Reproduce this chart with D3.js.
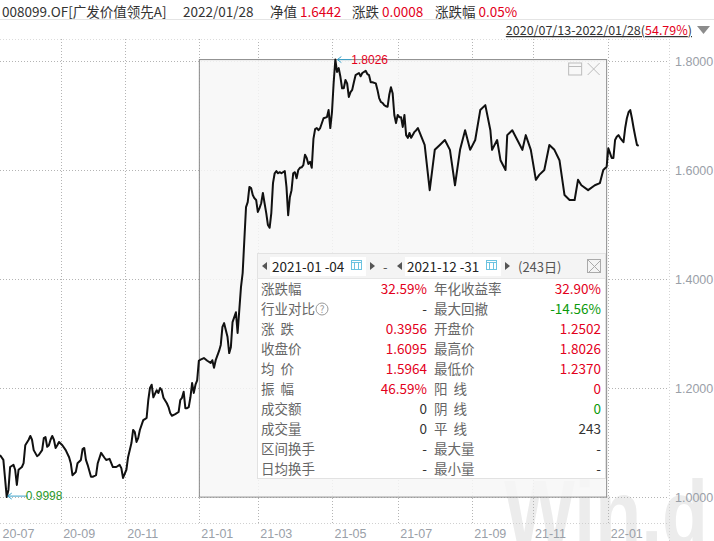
<!DOCTYPE html>
<html>
<head>
<meta charset="utf-8">
<script src="https://cdn.jsdelivr.net/npm/d3@7"></script>
<style>
  body { margin: 0; background: #fff; }
  svg { display: block; font-family: "Noto Sans CJK SC", "Noto Sans", sans-serif; }
</style>
</head>
<body>
<svg id="chart" width="714" height="541"></svg>
<script>
// trading-day index from 2020-07-13, and net value
var navIdx = [0,2,4,5,6,8,9,10,11,13,14,15,17,18,19,20,22,23,25,26,27,28,29,30,31,32,33,34,35,37,39,41,42,43,45,46,48,49,50,51,52,54,55,57,58,60,62,63,65,67,69,71,72,73,75,76,78,79,80,81,82,83,85,86,87,88,89,90,91,93,94,95,96,97,99,100,101,102,104,106,107,108,109,110,111,112,113,114,115,116,117,118,119,121,123,125,126,127,128,130,131,132,133,135,136,137,138,140,141,142,143,144,145,146,147,148,149,150,151,152,153,154,155,156,157,158,159,160,161,162,163,164,165,166,167,169,170,171,172,173,174,175,176,177,178,179,180,181,182,183,184,185,186,187,188,189,190,192,194,195,196,197,198,199,200,201,202,203,204,205,206,207,208,209,210,211,213,214,215,217,218,219,220,221,223,224,225,226,227,228,229,230,231,232,233,234,235,236,237,238,239,240,241,242,243,244,246,247,248,252,255,258,261,264,267,270,273,276,279,282,285,288,291,292,295,297,300,301,304,307,310,312,315,318,320,323,326,329,332,335,338,341,343,345,349,353,356,358,360,361,362,363,364,365,366,367,368,369,370,371,372,373,374,375,376,377,378,379];
var navVal = [1.077,1.068,0.9998,1.013,1.055,1.059,1.050,1.022,1.050,1.055,1.062,1.095,1.105,1.112,1.105,1.086,1.075,1.077,1.086,1.108,1.110,1.092,1.095,1.105,1.112,1.105,1.090,1.095,1.101,1.095,1.086,1.073,1.062,1.040,1.046,1.062,1.068,1.088,1.090,1.068,1.059,1.037,1.037,1.040,1.062,1.081,1.072,1.068,1.070,1.055,1.055,1.059,1.053,1.035,1.050,1.073,1.099,1.123,1.119,1.101,1.108,1.123,1.141,1.143,1.145,1.178,1.200,1.206,1.183,1.196,1.191,1.200,1.196,1.182,1.172,1.165,1.154,1.149,1.152,1.156,1.178,1.182,1.193,1.163,1.163,1.165,1.183,1.209,1.191,1.206,1.214,1.250,1.252,1.255,1.250,1.246,1.251,1.237,1.251,1.268,1.279,1.312,1.319,1.294,1.264,1.275,1.321,1.339,1.301,1.343,1.385,1.411,1.472,1.532,1.541,1.569,1.567,1.554,1.548,1.545,1.523,1.530,1.539,1.558,1.539,1.521,1.499,1.494,1.521,1.576,1.594,1.598,1.594,1.596,1.594,1.598,1.569,1.517,1.550,1.563,1.594,1.596,1.585,1.600,1.604,1.605,1.609,1.628,1.622,1.611,1.615,1.604,1.657,1.675,1.677,1.673,1.677,1.695,1.697,1.710,1.677,1.706,1.760,1.8026,1.780,1.787,1.771,1.750,1.750,1.765,1.759,1.734,1.743,1.747,1.761,1.774,1.778,1.772,1.778,1.782,1.776,1.774,1.761,1.761,1.759,1.747,1.732,1.725,1.723,1.719,1.717,1.716,1.738,1.752,1.741,1.701,1.686,1.701,1.697,1.697,1.679,1.701,1.664,1.659,1.668,1.659,1.670,1.673,1.677,1.646,1.563,1.637,1.646,1.655,1.637,1.572,1.637,1.673,1.637,1.655,1.710,1.719,1.673,1.637,1.655,1.618,1.600,1.664,1.673,1.655,1.637,1.664,1.637,1.582,1.591,1.600,1.646,1.637,1.618,1.554,1.545,1.545,1.582,1.572,1.563,1.572,1.576,1.600,1.606,1.640,1.631,1.622,1.622,1.655,1.661,1.664,1.659,1.655,1.651,1.677,1.695,1.706,1.710,1.695,1.677,1.661,1.646,1.6442];

var monthIdx = [0,36,74,118,153,197,236,280,316,361];
var monthLbl = ["20-07","20-09","20-11","21-01","21-03","21-05","21-07","21-09","21-11","22-01"];
var yTicks = [1.0,1.2,1.4,1.6,1.8];

var selFrom = 118, selTo = 360;   // 2021-01-04 .. 2021-12-31
var statLeft = ["涨跌幅","行业对比","涨  跌","收盘价","均  价","振  幅","成交额","成交量","区间换手","日均换手"];
var statLeftVal = ["32.59%","-","0.3956","1.6095","1.5964","46.59%","0","0","-","-"];
var statLeftCol = ["r","k","r","r","r","r","k","k","k","k"];
var statRight = ["年化收益率","最大回撤","开盘价","最高价","最低价","阳  线","阴  线","平  线","最大量","最小量"];
var statRightVal = ["32.90%","-14.56%","1.2502","1.8026","1.2370","0","0","243","-","-"];
var statRightCol = ["r","g","r","r","r","r","g","k","k","k"];

var RED = "#e3001b", GREEN = "#0a9a0a", GREY = "#9aa0a8", TXT = "#333";
var colOf = {r: RED, g: GREEN, k: TXT};

var svg = d3.select("#chart");

var x = d3.scaleLinear().domain([0, 397]).range([0, 669]);
var y = d3.scaleLinear().domain([1.0, 1.8]).range([497, 61]);

// watermark
svg.append("text")
  .attr("x", 504).attr("y", 545)
  .attr("font-family", "Liberation Sans, Arial, sans-serif")
  .attr("font-weight", "bold")
  .attr("font-size", 92)
  .attr("textLength", 204).attr("lengthAdjust", "spacingAndGlyphs")
  .attr("fill", "#ececec")
  .text("Win.d");

// header
var head = svg.append("text").attr("y", 17).attr("font-size", 13.5).attr("fill", TXT);
head.append("tspan").attr("x", 2).text("008099.OF[广发价值领先A]");
head.append("tspan").attr("x", 183).text("2022/01/28");
head.append("tspan").attr("x", 270).text("净值 ");
head.append("tspan").attr("fill", RED).text("1.6442");
head.append("tspan").attr("x", 352).text("涨跌 ");
head.append("tspan").attr("fill", RED).text("0.0008");
head.append("tspan").attr("x", 435).text("涨跌幅 ");
head.append("tspan").attr("fill", RED).text("0.05%");

svg.append("line").attr("x1", 0).attr("x2", 714).attr("y1", 19.5).attr("y2", 19.5)
  .attr("stroke", "#e4e4e4");

var rng = svg.append("text").attr("x", 692).attr("y", 35).attr("text-anchor", "end")
  .attr("font-size", 12.5).attr("fill", TXT).attr("text-decoration", "underline");
rng.append("tspan").text("2020/07/13-2022/01/28(");
rng.append("tspan").attr("fill", RED).text("54.79%");
rng.append("tspan").text(")");
svg.append("path").attr("d", "M697,26 L710,26 L703.5,34 Z").attr("fill", "#8c8c8c");

// grid
var grid = svg.append("g")
  .attr("stroke", "#b4b4b4").attr("stroke-dasharray", "1,2");
grid.selectAll(".hg").data(yTicks).enter().append("line")
  .attr("x1", 0).attr("x2", 669)
  .attr("y1", function(d) { return Math.round(y(d)) + 0.5; })
  .attr("y2", function(d) { return Math.round(y(d)) + 0.5; });
grid.selectAll(".vg").data(monthIdx.slice(1)).enter().append("line")
  .attr("x1", function(d) { return Math.round(x(d)) + 0.5; })
  .attr("x2", function(d) { return Math.round(x(d)) + 0.5; })
  .attr("y1", 39).attr("y2", 523);
grid.append("line").attr("x1", 669.5).attr("x2", 669.5).attr("y1", 39).attr("y2", 541)
  .attr("stroke", "#d4d4d4");
grid.append("line").attr("x1", 0).attr("x2", 669).attr("y1", 39.5).attr("y2", 39.5)
  .attr("stroke", "#dcdcdc");
grid.append("line").attr("x1", 0).attr("x2", 669).attr("y1", 523.5).attr("y2", 523.5)
  .attr("stroke", "#d0d0d0");

// right axis
var yAxis = d3.axisRight(y).tickValues(yTicks).tickSize(0).tickFormat(d3.format(".4f"));
svg.append("g").attr("transform", "translate(672,0)").call(yAxis)
  .call(function(g) { g.select(".domain").remove(); })
  .selectAll("text").attr("font-size", 12.5).attr("fill", GREY)
  .attr("font-family", "Liberation Sans, Arial, sans-serif");

// bottom axis
var xAxis = d3.axisBottom(x).tickValues(monthIdx).tickSize(0)
  .tickFormat(function(d, i) { return monthLbl[i]; });
svg.append("g").attr("transform", "translate(0,526)").call(xAxis)
  .call(function(g) { g.select(".domain").remove(); })
  .selectAll("text").attr("text-anchor", "start").attr("dx", 2)
  .attr("font-size", 12.5).attr("fill", GREY)
  .attr("font-family", "Liberation Sans, Arial, sans-serif");

// selection box
var bx0 = x(selFrom) + 0.5, bx1 = x(selTo);
svg.append("rect")
  .attr("x", bx0).attr("y", y(1.8026))
  .attr("width", bx1 - bx0).attr("height", y(0.9998) - y(1.8026))
  .attr("fill", "#f7f7f7").attr("fill-opacity", 0.85)
  .attr("stroke", "#8a8a8a");
svg.append("rect").attr("x", bx1 - 38).attr("y", 63).attr("width", 13).attr("height", 12)
  .attr("fill", "none").attr("stroke", "#bcbcbc");
svg.append("line").attr("x1", bx1 - 38).attr("x2", bx1 - 25).attr("y1", 66.5).attr("y2", 66.5)
  .attr("stroke", "#bcbcbc");
svg.append("path").attr("d", "M" + (bx1 - 19) + ",63 l12,12 M" + (bx1 - 7) + ",63 l-12,12")
  .attr("stroke", "#bcbcbc").attr("fill", "none");

// NAV line
var line = d3.line()
  .x(function(d, i) { return x(navIdx[i]); })
  .y(function(d) { return y(d); });
svg.append("path").datum(navVal)
  .attr("d", line)
  .attr("fill", "none").attr("stroke", "#111").attr("stroke-width", 2)
  .attr("stroke-linejoin", "round");

// max / min labels
var iMax = d3.maxIndex(navVal), iMin = d3.minIndex(navVal);
var mx = x(navIdx[iMax]), my = y(navVal[iMax]);
svg.append("path").attr("d", "M" + (mx + 2) + "," + my + " h14 M" + (mx + 2) + "," + my + " l4,-3 M" + (mx + 2) + "," + my + " l4,3")
  .attr("stroke", "#39a0c8").attr("fill", "none");
svg.append("text").attr("x", mx + 16).attr("y", my + 4).attr("font-size", 12)
  .attr("fill", RED).attr("font-family", "Liberation Sans, Arial, sans-serif")
  .text(d3.format(".4f")(navVal[iMax]));
var nx = x(navIdx[iMin]), ny = y(navVal[iMin]);
svg.append("path").attr("d", "M" + (nx + 1) + "," + (ny - 1) + " h20 M" + (nx + 1) + "," + (ny - 1) + " l4,-3 M" + (nx + 1) + "," + (ny - 1) + " l4,3")
  .attr("stroke", "#39a0c8").attr("fill", "none");
svg.append("text").attr("x", nx + 19).attr("y", ny + 3).attr("font-size", 12)
  .attr("fill", "#2d9a2d").attr("font-family", "Liberation Sans, Arial, sans-serif")
  .text(d3.format(".4f")(navVal[iMin]));

// stats panel
var px = 257, py = 253, pw = 348, ph = 225;
var panel = svg.append("g");
panel.append("rect").attr("x", px + 0.5).attr("y", py + 0.5).attr("width", pw).attr("height", ph)
  .attr("fill", "#fff").attr("stroke", "#e2e2e2");
panel.append("rect").attr("x", px + 1).attr("y", py + 1).attr("width", pw - 1).attr("height", 24)
  .attr("fill", "#f4f4f4");
panel.append("line").attr("x1", px).attr("x2", px + pw).attr("y1", py + 25.5).attr("y2", py + 25.5)
  .attr("stroke", "#e6e6e6");

function dateField(x0, label) {
  panel.append("path").attr("d", "M" + (x0 - 6) + "," + (py + 13) + " l5,-4 v8 Z").attr("fill", "#555");
  panel.append("rect").attr("x", x0 + 2).attr("y", py + 4).attr("width", 96).attr("height", 19).attr("fill", "#fff");
  panel.append("text").attr("x", x0 + 4).attr("y", py + 19).attr("font-size", 13.5).attr("fill", "#222")
    .text(label);
  var cx = x0 + 83;
  panel.append("rect").attr("x", cx + 0.5).attr("y", py + 7.5).attr("width", 10).attr("height", 9)
    .attr("fill", "none").attr("stroke", "#6cc3e0");
  panel.append("path").attr("d", "M" + cx + "," + (py + 9.5) + " h11 M" + (cx + 3.5) + "," + (py + 10) + " v6 M" + (cx + 7.5) + "," + (py + 10) + " v6")
    .attr("stroke", "#6cc3e0");
  panel.append("path").attr("d", "M" + (x0 + 102) + "," + (py + 9) + " l5,4 l-5,4 Z").attr("fill", "#555");
}
dateField(268, "2021-01 -04");
panel.append("text").attr("x", 383).attr("y", py + 19).attr("font-size", 13).attr("fill", "#555").text("-");
dateField(403, "2021-12 -31");
panel.append("text").attr("x", 518).attr("y", py + 19).attr("font-size", 13).attr("fill", "#555").text("(243日)");
panel.append("rect").attr("x", 587.5).attr("y", py + 6.5).attr("width", 13).attr("height", 13)
  .attr("fill", "none").attr("stroke", "#aaa");
panel.append("path").attr("d", "M588,260 l13,13 M601,260 l-13,13").attr("stroke", "#aaa");

var rowY = d3.range(statLeft.length).map(function(i) { return py + 41 + i * 20; });
statLeft.forEach(function(lbl, i) {
  panel.append("text").attr("x", 261).attr("y", rowY[i]).attr("font-size", 13.5)
    .attr("fill", "#666").attr("xml:space", "preserve").text(lbl);
  panel.append("text").attr("x", 427).attr("y", rowY[i]).attr("font-size", 13.5)
    .attr("text-anchor", "end").attr("fill", colOf[statLeftCol[i]]).text(statLeftVal[i]);
  panel.append("text").attr("x", 434).attr("y", rowY[i]).attr("font-size", 13.5)
    .attr("fill", "#666").attr("xml:space", "preserve").text(statRight[i]);
  panel.append("text").attr("x", 601).attr("y", rowY[i]).attr("font-size", 13.5)
    .attr("text-anchor", "end").attr("fill", colOf[statRightCol[i]]).text(statRightVal[i]);
});
// help icon after 行业对比
panel.append("circle").attr("cx", 322).attr("cy", rowY[1] - 5).attr("r", 6)
  .attr("fill", "none").attr("stroke", "#999");
panel.append("text").attr("x", 322).attr("y", rowY[1] - 1).attr("text-anchor", "middle")
  .attr("font-size", 10).attr("fill", "#999").text("?");
</script>
</body>
</html>
